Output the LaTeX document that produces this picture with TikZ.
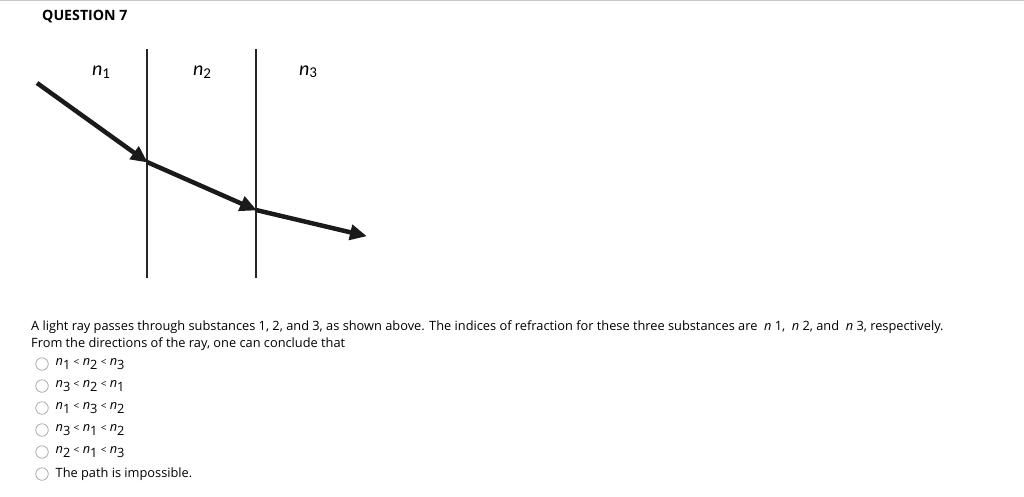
\documentclass[tikz,border=0pt]{standalone}
\usepackage{fontspec}
\setmainfont{Open Sans}
\newfontfamily\carl{Carlito}
\usetikzlibrary{arrows.meta}
\definecolor{rayblack}{HTML}{1A1A1A}
\definecolor{topgray}{HTML}{C8C8C8}
\definecolor{radiogray}{HTML}{A0A0A0}
\newcommand{\nlab}[1]{{\carl\itshape n}{\carl\raisebox{-0.12em}{\fontsize{15}{15}\selectfont #1}}}
\newcommand{\nidx}[1]{{\itshape n}\raisebox{-0.25em}{#1}}
\newcommand{\lt}{{\fontsize{10}{10}\selectfont<}}
\begin{document}
\begin{tikzpicture}[x=1pt,y=-1pt,
  boundary/.style={draw=black!85, line width=1.4pt},
  ray/.style={draw=rayblack, line width=4.5pt, -{Triangle[length=17pt,width=15pt]}, shorten >=-1pt},
  txt/.style={anchor=west, inner sep=0pt, font=\fontsize{12.8}{15}\selectfont},
  opt/.style={anchor=west, inner sep=0pt, font=\fontsize{12.8}{15}\selectfont},
  radio/.style={circle, draw=radiogray, line width=0.7pt, minimum size=12.5pt, inner sep=0pt},
  nlabel/.style={inner sep=0pt, font=\fontsize{20}{22}\selectfont}]
\useasboundingbox (0,0) rectangle (1024,496);
\draw[topgray, line width=1pt] (0,0.5) -- (1024,0.5);
\node[txt, font=\bfseries\fontsize{14.2}{16}\selectfont] (q) at (42,17) {QUESTION 7};
% boundaries
\coordinate (b1t) at (147,49); \coordinate (b1b) at (147,278);
\coordinate (b2t) at (256,49); \coordinate (b2b) at (256,278);
\draw[boundary] (b1t) -- (b1b);
\draw[boundary] (b2t) -- (b2b);
% labels
\node[nlabel] (n1) at (101,72) {\nlab{1}};
\node[nlabel] (n2) at (202,72) {\nlab{2}};
\node[nlabel] (n3) at (308,72) {\nlab{3}};
% ray
\coordinate (r0) at (37,83);
\coordinate (r1) at (147,162);
\coordinate (r2) at (256,210);
\coordinate (r3) at (366,236);
\draw[ray] (r0) -- (r1);
\draw[ray] (r1) -- (r2);
\draw[ray] (r2) -- (r3);
% text
\node[txt] (l1) at (31,327) {A light ray passes through substances 1, 2, and 3, as shown above. The indices of refraction for these three substances are\ \ {\itshape n} 1,\ \ {\itshape n} 2, and\ \ {\itshape n} 3, respectively.};
\node[txt] (l2) at (31,344) {From the directions of the ray, one can conclude that};
\foreach \y/\t [count=\i] in {364/{\nidx1 \lt{} \nidx2 \lt{} \nidx3},
  386/{\nidx3 \lt{} \nidx2 \lt{} \nidx1},
  408/{\nidx1 \lt{} \nidx3 \lt{} \nidx2},
  430/{\nidx3 \lt{} \nidx1 \lt{} \nidx2},
  452/{\nidx2 \lt{} \nidx1 \lt{} \nidx3}}{
  \node[radio] (c\i) at (42,\y) {};
  \node[opt] (o\i) at (55.5,\y) {\t};
}
\node[radio] (c6) at (42,474) {};
\node[txt] (o6) at (55.5,474) {The path is impossible.};
\end{tikzpicture}
\end{document}
